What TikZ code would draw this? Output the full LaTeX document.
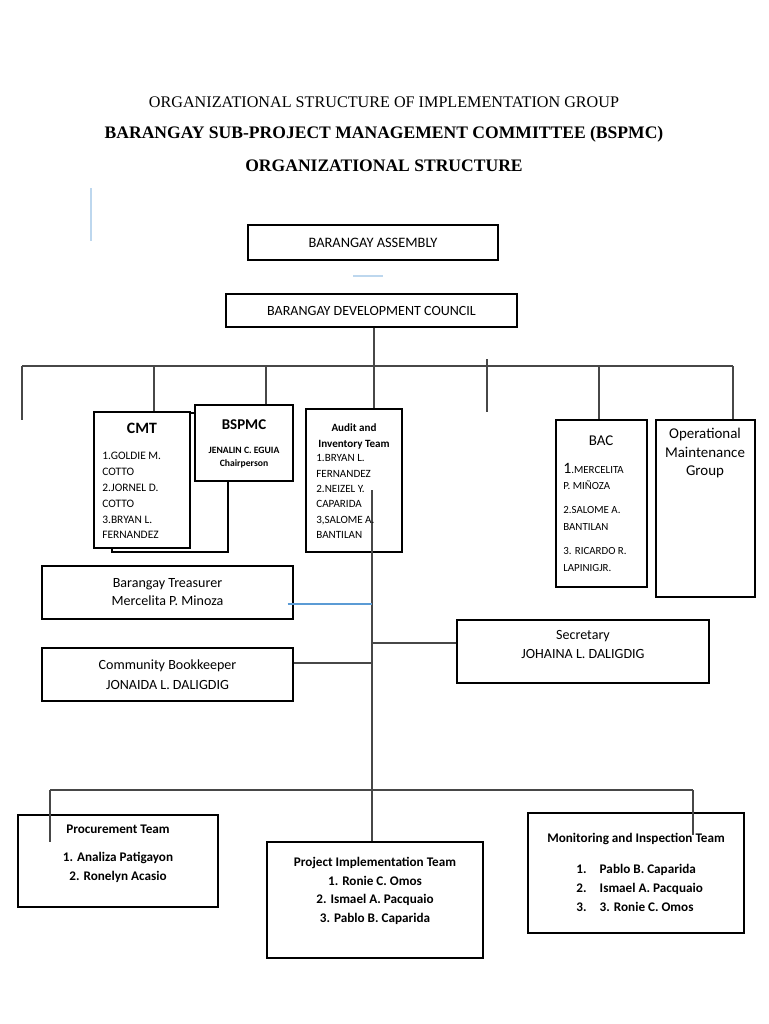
\documentclass[tikz,border=0pt]{standalone}
\usepackage{fontspec}
\setmainfont{Carlito}
\newfontfamily\titlefont{Liberation Serif}
\usetikzlibrary{fit}
\definecolor{linkblue}{HTML}{5B9BD5}
\definecolor{paleblue}{HTML}{BDD7EE}
\newcommand\setfs[2]{\fontsize{#1}{#2}\selectfont}
\tikzset{
  orgbox/.style={draw=black, line width=0.8pt, inner sep=0pt, fill=white},
  thickbox/.style={orgbox, line width=1.3pt},
  conn/.style={draw=black!72, line width=0.7pt},
  bluelink/.style={draw=linkblue, line width=0.7pt},
  lbl/.style={inner sep=0pt, align=center},
  lst/.style={inner sep=0pt, align=left, anchor=north west},
}

\begin{document}
\begin{tikzpicture}[x=0.02cm, y=-0.02cm]
  \useasboundingbox (0,0) rectangle (768,1024);

  % headings
  \node[lbl, font=\titlefont\setfs{9.2}{10}] (ttlA) at (384,102) {ORGANIZATIONAL STRUCTURE OF IMPLEMENTATION GROUP};
  \node[lbl, font=\titlefont\bfseries\setfs{10}{12}] (ttlB) at (384,134) {BARANGAY SUB-PROJECT MANAGEMENT COMMITTEE (BSPMC)};
  \node[lbl, font=\titlefont\bfseries\setfs{10}{12}] (ttlC) at (384,166) {ORGANIZATIONAL STRUCTURE};

  % stray marks
  \draw[paleblue, line width=0.8pt] (91,188) -- (91,241);
  \draw[paleblue, line width=1.5pt] (353,276) -- (383,276);

  % boxes
  \node[orgbox, line width=1pt, fit={(248,225) (498,260)}] (assembly) {};
  \node[orgbox, fit={(226,294) (517,327)}] (council) {};
  \node[orgbox, fit={(112,413) (228,552)}] (hidden) {};
  \node[orgbox, fit={(94,412) (190,548)}] (cmt) {};
  \node[orgbox, fit={(195,405) (293,481)}] (bspmc) {};
  \node[orgbox, fit={(306,409) (402,552)}] (audit) {};
  \node[orgbox, fit={(556,420) (647,587)}] (bac) {};
  \node[orgbox, fit={(656,420) (755,597)}] (opgroup) {};
  \node[orgbox, fit={(42,566) (293,619)}] (treasurer) {};
  \node[orgbox, fit={(42,648) (293,701)}] (bookkeeper) {};
  \node[orgbox, fit={(457,620) (709,683)}] (secretary) {};
  \node[orgbox, fit={(18,815) (218,907)}] (procure) {};
  \node[orgbox, fit={(267,842) (483,958)}] (pit) {};
  \node[thickbox, fit={(528,813) (744,933)}] (monitor) {};

  % upper bus
  \coordinate (busTL) at (22,366);
  \coordinate (busTR) at (733,366);
  \coordinate (dCMT) at (154,366);
  \coordinate (dBSP) at (266,366);
  \coordinate (dMain) at (374,366);
  \coordinate (dBAC) at (599,366);
  \coordinate (stubL) at (22,420);
  \coordinate (strayA) at (487,359);
  \coordinate (strayB) at (487,412);
  \draw[conn] (busTL) -- (busTR);
  \draw[conn] (council.south -| dMain) -- (audit.north -| dMain);
  \draw[conn] (busTL) -- (stubL);
  \draw[conn] (dCMT) -- (cmt.north -| dCMT);
  \draw[conn] (dBSP) -- (bspmc.north -| dBSP);
  \draw[conn] (strayA) -- (strayB);
  \draw[conn] (dBAC) -- (bac.north -| dBAC);
  \draw[conn] (busTR) -- (opgroup.north -| busTR);

  % trunk and side links
  \coordinate (trunkTop) at (372,490);
  \draw[conn] (trunkTop) -- (pit.north -| trunkTop);
  \draw[bluelink] ([shift={(-6,11.5)}]treasurer.east) coordinate (trsL) -- (trsL -| trunkTop);
  \draw[conn] ([shift={(0,-11.5)}]bookkeeper.east) coordinate (bkL) -- (bkL -| trunkTop);
  \draw[conn] ([shift={(0,-8.5)}]secretary.west) coordinate (scL) -- (scL -| trunkTop);

  % lower bus
  \coordinate (busBL) at (50,790);
  \coordinate (busBR) at (693,790);
  \coordinate (procEnd) at (50,842);
  \coordinate (monEnd) at (693,835);
  \draw[conn] (busBL) -- (busBR);
  \draw[conn] (busBL) -- (procEnd);
  \draw[conn] (busBR) -- (monEnd);

  % texts
  \node[lbl, font=\setfs{8.2}{9}] (assemblyT) at (assembly) {BARANGAY ASSEMBLY};
  \node[lbl, font=\setfs{8}{9}] (councilT) at (council) {BARANGAY DEVELOPMENT COUNCIL};

  \node[lbl, font=\bfseries\setfs{9}{10}] (cmtT) at (142,428) {CMT};
  \node[lst, font=\setfs{6.5}{9.07}] (cmtL) at (102,451.5)
    {1.GOLDIE M.\\COTTO\\2.JORNEL D.\\COTTO\\3.BRYAN L.\\FERNANDEZ};

  \node[lbl, font=\bfseries\setfs{8.5}{10}] (bspmcT) at (244,425) {BSPMC};
  \node[lbl, font=\bfseries\setfs{5.5}{7.4}] (bspmcL) at (244,458) {JENALIN C. EGUIA\\Chairperson};

  \node[lbl, font=\bfseries\setfs{6.3}{9.07}, anchor=north] (auditT) at (354,423) {Audit and\\Inventory Team};
  \node[lst, font=\setfs{6.3}{8.7}] (auditL) at (316,454.5)
    {1.BRYAN L.\\FERNANDEZ\\2.NEIZEL Y.\\CAPARIDA\\3,SALOME A.\\BANTILAN};

  \node[lbl, font=\setfs{8.5}{10}] (bacT) at (601,441) {BAC};
  \node[lst, font=\setfs{6.2}{9.6}] (bacL) at (563,462.5)
    {{\setfs{9}{9.6}1}.MERCELITA\\P. MIÑOZA\\[4pt]2.SALOME A.\\BANTILAN\\[4pt]3. RICARDO R.\\LAPINIGJR.};

  \node[lbl, font=\setfs{8.5}{10.5}, anchor=north] (opgroupT) at (705,428) {Operational\\Maintenance\\Group};

  \node[lbl, font=\setfs{8}{10.2}] (treasurerT) at (treasurer) {Barangay Treasurer\\Mercelita P. Minoza};
  \node[lbl, font=\setfs{8}{11.3}] (bookkeeperT) at (bookkeeper) {Community Bookkeeper\\JONAIDA L. DALIGDIG};
  \node[lbl, font=\setfs{8}{10.8}] (secretaryT) at (583,644.5) {Secretary\\JOHAINA L. DALIGDIG};

  \node[lbl, font=\bfseries\setfs{7.5}{10.8}] (procureT) at (118,829) {Procurement Team};
  \node[lbl, font=\bfseries\setfs{7.5}{10.8}] (procureL) at (118,867.5) {1. Analiza Patigayon\\2. Ronelyn Acasio};

  \node[lbl, font=\bfseries\setfs{7.5}{10.6}] (pitT) at (375,891) {Project Implementation Team\\1. Ronie C. Omos\\2. Ismael A. Pacquaio\\3. Pablo B. Caparida};

  \node[lbl, font=\bfseries\setfs{7.5}{10.8}] (monitorT) at (636,839) {Monitoring and Inspection Team};
  \node[lst, font=\bfseries\setfs{7.5}{10.8}] (monitorL) at (576,864)
    {1.\hspace{1em}Pablo B. Caparida\\2.\hspace{1em}Ismael A. Pacquaio\\3.\hspace{1em}3. Ronie C. Omos};
\end{tikzpicture}
\end{document}
